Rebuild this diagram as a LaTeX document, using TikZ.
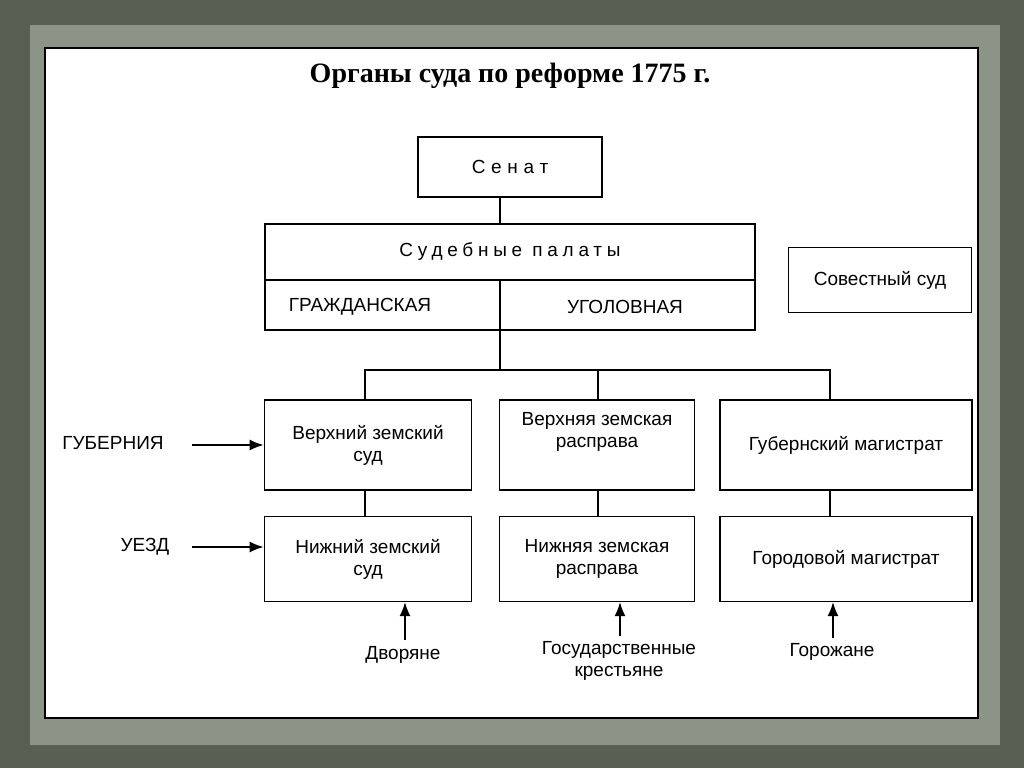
\documentclass[tikz,border=0pt]{standalone}
\usepackage{fontspec}
\setmainfont{Liberation Sans}
\newfontfamily\titlefont{Liberation Serif}
\usetikzlibrary{positioning, calc, arrows.meta}
\definecolor{board}{RGB}{88, 96, 84}
\definecolor{paper}{RGB}{140, 148, 136}

\begin{document}
\begin{tikzpicture}[x=1pt, y=-1pt, thick,
    court/.style={draw, line width=1.6, fill=white, align=center, inner sep=0,
      font=\fontsize{19}{22}\selectfont},
    link/.style={line width=1.6},
    feed/.style={-{Latex[length=14pt, width=11pt]}, line width=1.8}]

        % Background
        \fill[board] (0,0) rectangle (1024,768);
        \fill[paper] (30,25) rectangle (1000,745);
        \draw[line width=1.4, fill=white] (45,48) rectangle (978,718);
        \useasboundingbox (0,0) rectangle (1024,768);

        \node[font=\titlefont\bfseries\fontsize{28}{32}\selectfont] (title) at (510,76) {Органы суда по реформе 1775 г.};

        % Top
        \node[court, minimum width=184, minimum height=60] (senat) at (510,167) {\addfontfeature{LetterSpace=30}Сенат};
        \node[court, minimum width=490, minimum height=106] (palaty) at (510,277) {};
        \node[font=\fontsize{19}{22}\selectfont] (palname) at (510,252) {\addfontfeature{LetterSpace=25}Судебные палаты};
        \node[font=\fontsize{19}{22}\selectfont] (civil) at (360,307) {ГРАЖДАНСКАЯ};
        \node[font=\fontsize{19}{22}\selectfont] (crime) at (625,307) {УГОЛОВНАЯ};
        \coordinate (split) at (500,330);
        \coordinate (fork) at (500,370);
        \draw[link] (265,280) -- (755,280);
        \draw[link] (500,280) -- (split);
        \node[court, minimum width=183, minimum height=65] (sovest) at (880,280) {Совестный суд};

        % Courts
        \node[court, minimum width=207, minimum height=90] (vzs) at (368,445) {Верхний земский\\суд};
        \node[court, minimum width=195, minimum height=90] (vzr) at (597,445) {Верхняя земская\\расправа\\[8pt]};
        \node[court, minimum width=252, minimum height=90] (gm) at (846,445) {Губернский магистрат};
        \node[court, minimum width=207, minimum height=85] (nzs) at (368,559) {Нижний земский\\суд};
        \node[court, minimum width=195, minimum height=85] (nzr) at (597,559) {Нижняя земская\\расправа};
        \node[court, minimum width=252, minimum height=85] (gorm) at (846,559) {Городовой магистрат};

        \draw[link] (senat.south -| split) -- (palaty.north -| split);
        \draw[link] (split) -- (fork);
        \draw[link] (365,400) -- (365,370) -- (830,370) -- (830,400);
        \draw[link] (598,370) -- (598,400);
        \draw[link] (365,490) -- (365,517);
        \draw[link] (598,490) -- (598,517);
        \draw[link] (830,490) -- (830,517);

        % Estates
        \node[font=\fontsize{19}{22}\selectfont] (dvor) at (403,655) {Дворяне};
        \node[font=\fontsize{19}{22}\selectfont, align=center] (krest) at (619,661) {Государственные\\крестьяне};
        \node[font=\fontsize{19}{22}\selectfont] (gorozh) at (832,652) {Горожане};
        \draw[feed] (405,640) -- (405,602);
        \draw[feed] (620,636) -- (620,602);
        \draw[feed] (833,638) -- (833,602);

        % Levels
        \node[font=\fontsize{19}{22}\selectfont] (gub) at (113,443) {ГУБЕРНИЯ};
        \node[font=\fontsize{19}{22}\selectfont] (uezd) at (145,547) {УЕЗД};
        \draw[feed] (192,445) -- (vzs.west |- 0,445);
        \draw[feed] (192,547) -- (nzs.west |- 0,547);
\end{tikzpicture}
\end{document}
